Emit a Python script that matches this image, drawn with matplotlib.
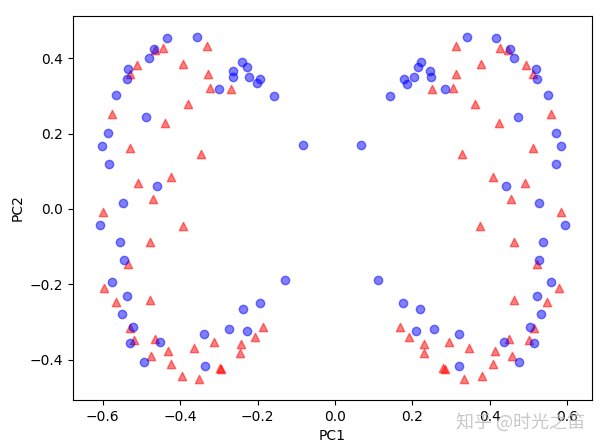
import matplotlib
matplotlib.use("Agg")
import matplotlib.pyplot as plt

blue_x = [-0.433,-0.357,-0.468,-0.480,-0.534,-0.538,-0.566,-0.489,-0.587,-0.603,-0.585,-0.461,-0.547,
          -0.240,-0.228,-0.264,-0.264,-0.221,-0.194,-0.202,-0.300,-0.158,-0.082,
          -0.607,-0.556,-0.544,-0.576,-0.538,-0.551,-0.521,-0.531,-0.452,-0.493,-0.338,-0.335,-0.273,-0.227,-0.237,-0.193,-0.128,
          0.340,0.415,0.452,0.462,0.519,0.522,0.550,0.472,0.571,0.585,0.571,0.442,0.528,
          0.221,0.214,0.245,0.248,0.204,0.178,0.185,0.285,0.142,0.066,
          0.593,0.538,0.528,0.558,0.521,0.533,0.504,0.514,0.437,0.475,0.320,0.320,0.256,0.209,0.219,0.175,0.111]
blue_y = [0.454,0.457,0.424,0.400,0.371,0.344,0.302,0.245,0.202,0.167,0.118,0.061,0.015,
          0.389,0.377,0.367,0.351,0.349,0.345,0.333,0.318,0.300,0.170,
          -0.042,-0.088,-0.136,-0.195,-0.230,-0.280,-0.313,-0.355,-0.353,-0.406,-0.333,-0.416,-0.318,-0.325,-0.265,-0.249,-0.189,
          0.457,0.454,0.424,0.400,0.371,0.344,0.302,0.245,0.202,0.167,0.118,0.061,0.015,
          0.389,0.376,0.367,0.351,0.349,0.345,0.332,0.318,0.300,0.170,
          -0.042,-0.088,-0.136,-0.195,-0.230,-0.280,-0.313,-0.355,-0.353,-0.406,-0.333,-0.416,-0.318,-0.325,-0.265,-0.249,-0.189]

red_x = [-0.444,-0.330,-0.465,-0.511,-0.531,-0.392,-0.327,-0.323,-0.269,-0.379,-0.576,-0.440,-0.530,-0.347,-0.425,-0.510,-0.470,-0.600,
         -0.392,-0.478,-0.536,-0.596,-0.567,-0.478,-0.531,-0.519,-0.465,-0.431,-0.475,-0.424,-0.396,-0.352,-0.364,-0.313,-0.297,-0.294,-0.244,-0.245,-0.207,-0.185,
         0.312,0.425,0.448,0.494,0.512,0.376,0.312,0.306,0.251,0.361,0.558,0.423,0.511,0.329,0.407,0.491,0.455,0.583,
         0.374,0.462,0.521,0.578,0.549,0.462,0.515,0.502,0.450,0.413,0.457,0.407,0.379,0.334,0.346,0.295,0.280,0.283,0.230,0.231,0.192,0.167]
red_y = [0.428,0.433,0.422,0.382,0.357,0.385,0.357,0.322,0.318,0.278,0.252,0.229,0.161,0.145,0.085,0.070,0.026,-0.007,
         -0.044,-0.089,-0.147,-0.210,-0.246,-0.241,-0.315,-0.349,-0.345,-0.378,-0.390,-0.411,-0.443,-0.452,-0.370,-0.354,-0.423,-0.426,-0.359,-0.383,-0.341,-0.312,
         0.432,0.428,0.422,0.382,0.357,0.385,0.357,0.322,0.318,0.278,0.252,0.229,0.161,0.145,0.085,0.070,0.026,-0.007,
         -0.044,-0.089,-0.147,-0.210,-0.246,-0.241,-0.316,-0.349,-0.345,-0.378,-0.390,-0.411,-0.443,-0.452,-0.370,-0.354,-0.423,-0.426,-0.359,-0.383,-0.341,-0.312]

fig = plt.figure(figsize=(6.0, 4.47), dpi=100)
ax = fig.add_axes([73/600, 47/447, 519/600, 384/447])
ax.scatter(red_x, red_y, color='red', marker='^', alpha=0.5)
ax.scatter(blue_x, blue_y, color='blue', marker='o', alpha=0.5)
ax.set_xlim(-0.677, 0.664)
ax.set_ylim(-0.507, 0.512)
ax.set_xticks([-0.6,-0.4,-0.2,0.0,0.2,0.4,0.6])
ax.set_yticks([-0.4,-0.2,0.0,0.2,0.4])
ax.set_xlabel('PC1')
ax.set_ylabel('PC2')
fig.text(520/600, 1-422/447, '知乎 @时光之笛', family=['Noto Sans CJK SC', 'DejaVu Sans'],
         fontsize=13, color='#bbbbbb', alpha=0.8, ha='center', va='center')
fig.savefig('out.png', dpi=100)
